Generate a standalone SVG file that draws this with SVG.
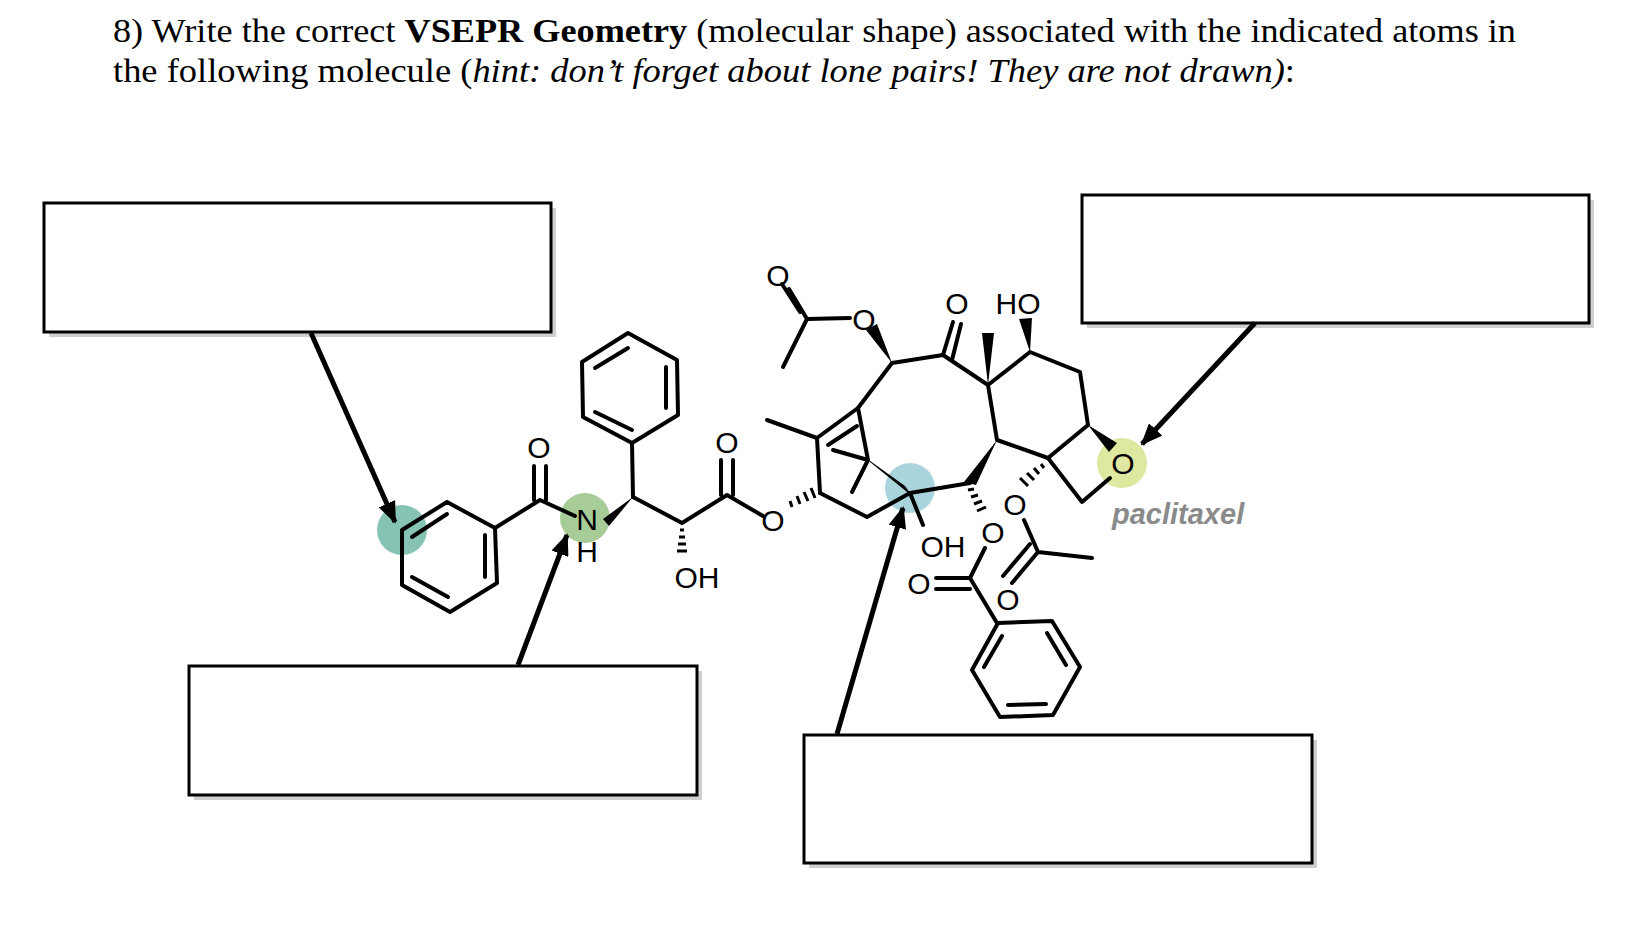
<svg xmlns="http://www.w3.org/2000/svg" width="1642" height="952" viewBox="0 0 1642 952">
<style>
.t{font-family:"Liberation Serif",serif;font-size:34px;fill:#000}
.b{fill:none;stroke:#000;stroke-width:4;stroke-linecap:round;stroke-linejoin:round}
.a{font-family:"Liberation Sans",Arial,sans-serif;font-size:30px;fill:#000;text-anchor:middle}
.box{fill:#fff;stroke:#000;stroke-width:3}
.sh{fill:#cfcfcf}
.w{fill:#000}
.ar{stroke:#000;stroke-width:5;fill:none;marker-end:url(#ah)}
</style>
<defs>
<marker id="ah" markerWidth="22" markerHeight="18" refX="20" refY="9" orient="auto" markerUnits="userSpaceOnUse">
<path d="M0,0 L22,9 L0,18 z" fill="#000"/>
</marker>
</defs>
<rect width="1642" height="952" fill="#fff"/>
<text class="t" x="113" y="42" textLength="1403" lengthAdjust="spacingAndGlyphs">8) Write the correct <tspan font-weight="bold">VSEPR Geometry</tspan> (molecular shape) associated with the indicated atoms in</text>
<text class="t" x="113" y="82" textLength="1182" lengthAdjust="spacingAndGlyphs">the following molecule (<tspan font-style="italic">hint: don’t forget about lone pairs! They are not drawn)</tspan>:</text>

<g id="highlights">
<circle cx="402" cy="530" r="25" fill="#86c3b5"/>
<circle cx="585" cy="518" r="25" fill="#a8cc98"/>
<circle cx="910" cy="488" r="25" fill="#a9d4dc"/>
<circle cx="1122" cy="463" r="25" fill="#dfe8a0"/>
</g>

<g id="molecule">
<path class="b" d="M402,530 L447,502 L495,528 L497,583 L450,612 L402,585 Z"/>
<path class="b" d="M412,537 L447,514 M485,535 L485,577 M412,577 L448,597"/>
<path class="b" d="M495,528 L540,500 L575,516"/>
<path class="b" d="M534,500 L534,466 M546,500 L546,466"/>
<text class="a" x="539" y="458">O</text>
<text class="a" x="587" y="530">N</text>
<text class="a" x="587" y="562">H</text>
<polygon class="w" points="603,519 633,497 609,526"/>
<path class="b" d="M633,497 L632,443"/>
<path class="b" d="M632,443 L678,415 L677,360 L628,333 L582,362 L583,417 Z"/>
<path class="b" d="M595,368 L628,348 M666,367 L666,408 M595,412 L632,430"/>
<path class="b" d="M633,497 L682,523 L727,495 L763,516"/>
<g stroke="#000" stroke-width="3">
<line x1="680" y1="530" x2="684" y2="530"/><line x1="679" y1="537" x2="685" y2="537"/><line x1="678" y1="544" x2="686" y2="544"/><line x1="677" y1="551" x2="687" y2="551"/>
</g>
<text class="a" x="697" y="588">OH</text>
<path class="b" d="M721,495 L721,460 M733,495 L733,460"/>
<text class="a" x="727" y="453">O</text>
<text class="a" x="773" y="531">O</text>
<g stroke="#000" stroke-width="3">
<line x1="790" y1="501" x2="792" y2="507"/><line x1="797" y1="496" x2="800" y2="504"/><line x1="804" y1="492" x2="808" y2="501"/><line x1="811" y1="488" x2="815" y2="498"/>
</g>
<path class="b" d="M820,493 L867,517 L910,493 L970,483"/>
<path class="b" d="M820,493 L817,438 L858,408 L892,363 L943,355 L988,385 L1030,352 L1080,372 L1088,425 L1048,458 L997,440 L988,385"/>
<path class="b" d="M828,445 L857,426 M767,420 L817,438"/>
<path class="b" d="M858,408 L868,460 L833,450 M868,460 L852,492"/>
<polygon class="w" points="866,458 870,462 912,496 905,486"/>
<path class="b" d="M910,493 L923,525"/>
<text class="a" x="943" y="557">OH</text>
<polygon class="w" points="892,363 866,330 877,324"/>
<text class="a" x="864" y="330">O</text>
<path class="b" d="M850,318 L807,319 L783,367 M807,319 L789,289 M800,312 L782,284"/>
<text class="a" x="778" y="286">O</text>
<path class="b" d="M943,355 L953,322 M952,360 L961,324"/>
<text class="a" x="957" y="314">O</text>
<polygon class="w" points="988,385 982,333 994,333"/>
<polygon class="w" points="1030,352 1019,319 1032,318"/>
<text class="a" x="1018" y="314">HO</text>
<polygon class="w" points="1088,425 1109,452 1117,443"/>
<text class="a" x="1123" y="474">O</text>
<path class="b" d="M1110,478 L1082,502 L1048,458"/>
<polygon class="w" points="997,440 964,482 976,485"/>
<g stroke="#000" stroke-width="3">
<line x1="968" y1="490" x2="974" y2="489"/><line x1="971" y1="497" x2="978" y2="495"/><line x1="974" y1="504" x2="982" y2="501"/><line x1="977" y1="511" x2="986" y2="507"/>
</g>
<text class="a" x="993" y="543">O</text>
<path class="b" d="M985,548 L970,578 L997,623 M970,578 L936,578 M970,589 L936,589"/>
<text class="a" x="919" y="594">O</text>
<g stroke="#000" stroke-width="3">
<line x1="1041" y1="464" x2="1044" y2="468"/><line x1="1034" y1="468" x2="1039" y2="474"/><line x1="1027" y1="473" x2="1034" y2="480"/><line x1="1020" y1="478" x2="1028" y2="486"/>
</g>
<text class="a" x="1015" y="515">O</text>
<path class="b" d="M1024,520 L1038,552 L1092,558 M1038,552 L1012,583 M1030,544 L1003,576"/>
<text class="a" x="1008" y="610">O</text>
<path class="b" d="M998,623 L1052,621 L1080,667 L1053,715 L1000,717 L972,670 Z"/>
<path class="b" d="M1002,636 L984,667 M1047,633 L1066,665 M1008,705 L1046,704"/>
<text x="1112" y="524" font-family="'Liberation Sans',Arial,sans-serif" font-size="29" font-weight="bold" font-style="italic" fill="#8a8a8a">paclitaxel</text>
</g>

<g id="box1"><rect class="sh" x="49" y="208" width="507" height="129"/><rect class="box" x="44" y="203" width="507" height="129"/></g>
<g id="box2"><rect class="sh" x="1087" y="200" width="507" height="128"/><rect class="box" x="1082" y="195" width="507" height="128"/></g>
<g id="box3"><rect class="sh" x="194" y="671" width="508" height="129"/><rect class="box" x="189" y="666" width="508" height="129"/></g>
<g id="box4"><rect class="sh" x="809" y="740" width="508" height="128"/><rect class="box" x="804" y="735" width="508" height="128"/></g>

<g id="connectors">
<line class="ar" x1="311" y1="333" x2="395" y2="522"/>
<line class="ar" x1="518" y1="665" x2="567" y2="535"/>
<line class="ar" x1="837" y1="734" x2="903" y2="508"/>
<line class="ar" x1="1255" y1="323" x2="1142" y2="444"/>
</g>
</svg>
